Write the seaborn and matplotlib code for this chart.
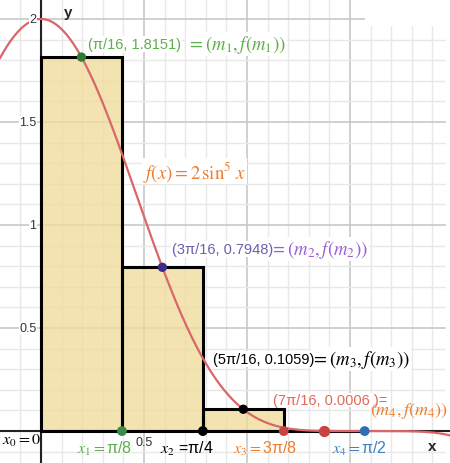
import numpy as np
import pandas as pd
import matplotlib
matplotlib.use("Agg")
import matplotlib.pyplot as plt
import seaborn as sns

# ---------------- data ----------------
x_parts = [0.0, np.pi / 8, np.pi / 4, 3 * np.pi / 8, np.pi / 2]
part_labels = [r"$x_0 = 0$", r"$x_1 = $π/8", r"$x_2$ =π/4", r"$x_3 = $3π/8", r"$x_4 = $π/2"]
part_colors = ["#000000", "#5fae4e", "#000000", "#ef7d2c", "#3d7fc4"]

mid_x = [np.pi / 16, 3 * np.pi / 16, 5 * np.pi / 16, 7 * np.pi / 16]
mid_y = [1.8151, 0.7948, 0.1059, 0.0006]
mid_dot_colors = ["#2e7d32", "#3b2a8a", "#000000", "#c74440"]

y_ticks = [0.5, 1, 1.5, 2]
y_tick_labels = ["0.5", "1", "1.5", "2"]
x_ticks = [0.5]
x_tick_labels = ["0.5"]

# curve of the plotted function (peak 2 at x=0, matches f(m_i) values)
curve_x = np.linspace(-0.2, 2.0, 400)
curve_y = 2 * np.cos(curve_x) ** 5

# ---------------- style ----------------
sns.set_style("white")
plt.rcParams["font.family"] = ["Liberation Sans", "DejaVu Sans"]
plt.rcParams["mathtext.fontset"] = "stix"

fig = plt.figure(figsize=(4.5, 4.64), dpi=100)
ax = fig.add_axes([0, 0, 1, 1])
ax.set_xlim(-0.199, 1.985)
ax.set_ylim(-0.155, 2.097)
for s in ax.spines.values():
    s.set_visible(False)

ax.set_xticks(np.arange(-0.1, 2.0, 0.1), minor=True)
ax.set_yticks(np.arange(-0.1, 2.1, 0.1), minor=True)
ax.set_xticks([0.5, 1.0, 1.5])
ax.set_yticks([0.5, 1.0, 1.5, 2.0])
ax.grid(which="minor", color="#e8e8e8", lw=1.0, zorder=0)
ax.grid(which="major", color="#c8c8c8", lw=1.2, zorder=0)
ax.tick_params(which="both", length=0, labelbottom=False, labelleft=False)
ax.set_axisbelow(True)

# white patch top-right
ax.add_patch(plt.Rectangle((0.81, 0.945), 0.2, 0.06, transform=ax.transAxes,
                           color="white", zorder=1))
ax.add_patch(plt.Rectangle((0.99, 0.0), 0.02, 1.0, transform=ax.transAxes,
                           color="white", zorder=1))

# rectangles (midpoint Riemann sum)
widths = np.diff(x_parts)
ax.bar(x_parts[:-1], mid_y, width=widths, align="edge",
       color="#efdc9c", alpha=0.8, edgecolor="none", zorder=2)
ax.bar(x_parts[:-1], mid_y, width=widths, align="edge",
       fill=False, edgecolor="black", lw=2.2, zorder=4)

# axes lines
ax.axhline(0, color="#222222", lw=1.5, zorder=3)
ax.axvline(0, color="#222222", lw=1.5, zorder=3)

# curve
sns.lineplot(x=curve_x, y=curve_y, ax=ax, color="#d9666b", lw=1.6, zorder=5, sort=False)

# dots
sns.scatterplot(x=mid_x, y=mid_y, hue=list(range(4)), palette=mid_dot_colors,
                s=45, ax=ax, legend=False, zorder=6, edgecolor="none")
sns.scatterplot(x=x_parts[1:], y=[0] * 4, hue=list(range(4)),
                palette=["#388c46", "#000000", "#c74440", "#2d70b3"],
                s=50, ax=ax, legend=False, zorder=6, edgecolor="none")
ax.scatter([np.pi * 7 / 16], [0], s=50, color="#c74440", zorder=6)

# tick labels
for v, t in zip(y_ticks, y_tick_labels):
    ax.text(-0.022, v, t, ha="right", va="center", fontsize=9, color="#333333", zorder=7,
            bbox=dict(facecolor="white", edgecolor="none", pad=0.3))
for v, t in zip(x_ticks, x_tick_labels):
    ax.text(v, -0.053, t, ha="center", va="center", fontsize=9, color="#333333", zorder=7)

# axis names
ax.text(0.131, 2.034, "y", fontsize=11, fontweight="bold", ha="center", va="center", zorder=7)
ax.text(1.898, -0.073, "x", fontsize=11, fontweight="bold", ha="center", va="center", zorder=7)

# partition labels
part_pos = [(-0.189, -0.044), (0.175, -0.083), (0.578, -0.083), (0.932, -0.083), (1.413, -0.083)]
for (px, py), t, c in zip(part_pos, part_labels, part_colors):
    ax.text(px, py, t, color=c, fontsize=11.5, ha="left", va="center", zorder=7)

wb = dict(facecolor="white", edgecolor="none", pad=0.5)
SANS = 10.5
MATH = 13.5
# m1
ax.text(0.709, 1.879, r"$= (m_1, f(m_1))$", color="#5fae4e",
        fontsize=MATH, ha="left", va="center", zorder=7, bbox=wb)
ax.text(0.228, 1.879, "(π/16, 1.8151)", color="#5fae4e",
        fontsize=SANS, ha="left", va="center", zorder=8, bbox=wb)
# f(x)
ax.text(0.495, 1.262, r"$f(x) = 2\,\sin^5\,x$", color="#ef7d2c",
        fontsize=13.5, ha="left", va="center", zorder=7, bbox=wb)
# m2
ax.text(1.106, 0.883, r"$= (m_2, f(m_2))$", color="#9b5fd0",
        fontsize=MATH, ha="left", va="center", zorder=7, bbox=wb)
ax.text(0.636, 0.883, "(3π/16, 0.7948)", color="#6b5fb0",
        fontsize=SANS, ha="left", va="center", zorder=8, bbox=wb)
# m3
ax.text(1.312, 0.350, r"$=(m_3, f(m_3))$", color="#000000",
        fontsize=MATH, ha="left", va="center", zorder=7, bbox=wb)
ax.text(0.835, 0.350, "(5π/16, 0.1059)", color="#000000",
        fontsize=SANS, ha="left", va="center", zorder=8, bbox=wb)
# m4
ax.text(1.126, 0.150, "(7π/16, 0.0006 )=", color="#e06a5a",
        fontsize=SANS, ha="left", va="center", zorder=8,
        bbox=dict(facecolor="white", edgecolor="none", pad=0.2))
ax.text(1.597, 0.100, r"$(m_4, f(m_4))$", color="#ef7d2c",
        fontsize=13, ha="left", va="center", zorder=9)

fig.savefig("out.png", dpi=100)
